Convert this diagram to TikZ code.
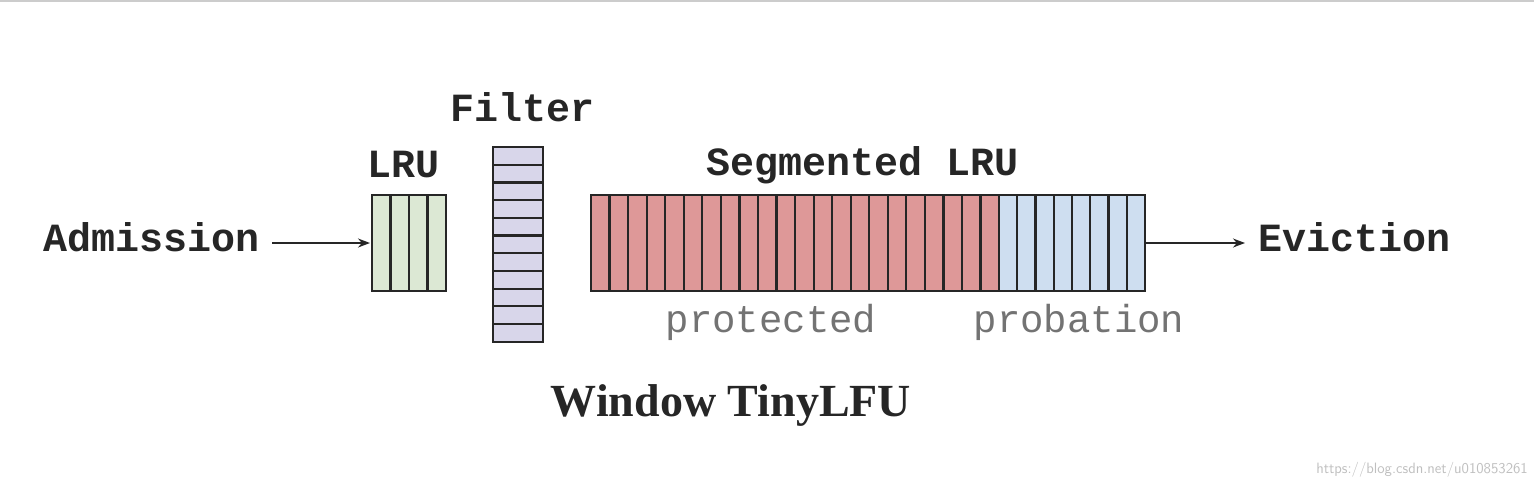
\documentclass[tikz,border=0pt]{standalone}
\usepackage{fontspec}
\setmainfont{Liberation Serif}
\setmonofont{Liberation Mono}
\usetikzlibrary{arrows.meta}
\definecolor{lrug}{RGB}{220,232,212}
\definecolor{filt}{RGB}{216,214,234}
\definecolor{prot}{RGB}{222,152,152}
\definecolor{prob}{RGB}{206,222,240}
\begin{document}
\begin{tikzpicture}[x=1pt,y=-1pt,
  cell/.style={draw=black!85,line width=2.2pt},
  lbl/.style={font=\fontsize{40}{40}\selectfont\ttfamily\bfseries,text=black!85,inner sep=0pt},
  sub/.style={font=\fontsize{39}{39}\selectfont\ttfamily,text=black!55,inner sep=0pt},
  arr/.style={-{Stealth[length=12pt,width=9pt]},line width=1.6pt,black!85}]
\useasboundingbox (0,0) rectangle (1534,490);
\fill[black!20] (0,0) rectangle (1534,2);
% LRU
\foreach \i in {0,...,3} \draw[cell,fill=lrug] ({372+\i*18.5},195) rectangle ({372+(\i+1)*18.5},291);
% Filter
\foreach \i in {0,...,10} \draw[cell,fill=filt] (493,{147+\i*17.7}) rectangle (543,{147+(\i+1)*17.7});
% Segmented
\foreach \i in {0,...,21} \draw[cell,fill=prot] ({591+\i*18.55},195) rectangle ({591+(\i+1)*18.55},291);
\foreach \i in {0,...,7} \draw[cell,fill=prob] ({999+\i*18.25},195) rectangle ({999+(\i+1)*18.25},291);
\coordinate (lruW) at (370,243);
\coordinate (segE) at (1145,243);
\node[lbl] (adm) at (152,237) {Admission};
\node[lbl] (evi) at (1355,237) {Eviction};
\node[lbl] (lru) at (404,165) {LRU};
\node[lbl] (fil) at (523,107) {Filter};
\node[lbl] (seg) at (863,165) {Segmented LRU};
\node[sub] (pro) at (771,322) {protected};
\node[sub] (prb) at (1079,322) {probation};
\node[font=\fontsize{46}{46}\selectfont\bfseries,text=black!85,inner sep=0pt] (win) at (731,405) {Window TinyLFU};
\node[font=\fontsize{15}{15}\selectfont\sffamily,text=black!25,anchor=east,inner sep=0pt] (wm) at (1528,470) {https://blog.csdn.net/u010853261};
\draw[arr] (272,243) -- (lruW);
\draw[arr] (segE) -- (1245,243);
\end{tikzpicture}
\end{document}
